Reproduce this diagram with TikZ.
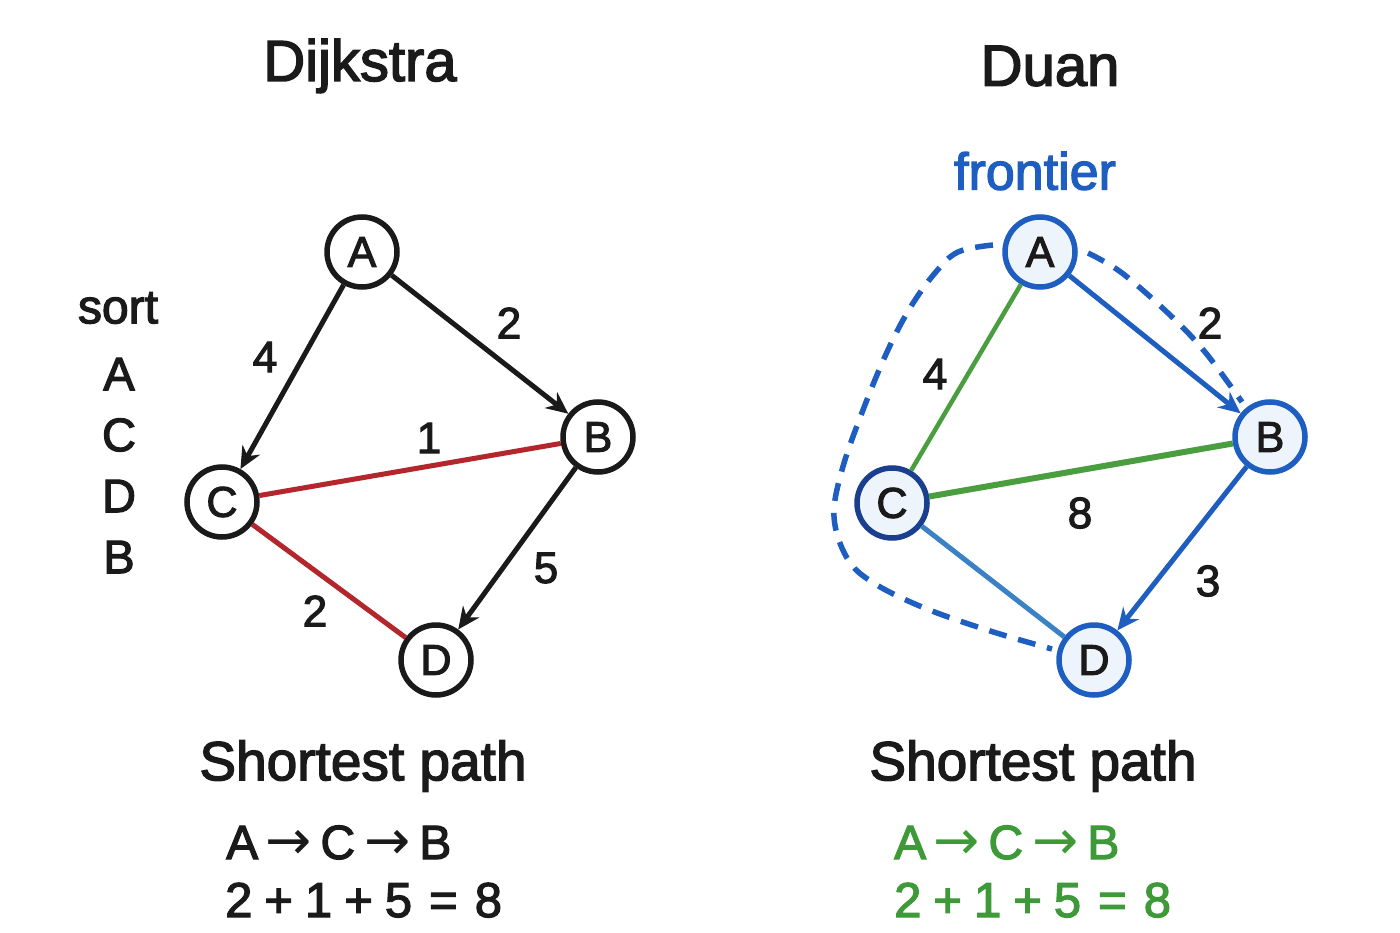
\documentclass[tikz,border=0pt]{standalone}
\usepackage{fontspec}
\usepackage{graphicx}
\setmainfont{Liberation Sans}[FakeBold=2.5]
\newfontfamily\arrowfont{DejaVu Sans}
\usetikzlibrary{arrows.meta}
\definecolor{ink}{HTML}{1A1A1A}
\definecolor{redpath}{HTML}{B3262B}
\definecolor{greenpath}{HTML}{4A9E3F}
\definecolor{bluepath}{HTML}{1E5EC0}
\definecolor{lightblue}{HTML}{3B82C4}
\definecolor{darkblue}{HTML}{1A3F8F}
\definecolor{nodefill}{HTML}{EEF4FB}
\definecolor{greentext}{HTML}{3E9A38}
\newcommand{\fsz}[1]{\fontsize{#1}{#1}\selectfont}
\newcommand{\rar}{\scalebox{1.15}{\arrowfont\char"2192}}
\tikzset{
  vert/.style={circle, draw=ink, line width=5.5pt, minimum size=70pt, inner sep=0pt, text=ink, font=\fsz{43}},
  bvert/.style={vert, draw=bluepath, fill=nodefill},
  title/.style={text=ink, font=\fsz{58}},
  elabel/.style={text=ink, font=\fsz{44}},
  arr/.style={line width=5pt, -{Stealth[length=22pt,width=20pt]}},
  plain/.style={line width=5pt},
  frontierline/.style={bluepath, line width=5.5pt, dash pattern=on 18pt off 12pt},
  sumtext/.style={anchor=west, inner sep=0pt},
}
\begin{document}
\begin{tikzpicture}[x=1pt,y=-1pt]
\useasboundingbox[fill=white] (0,0) rectangle (1400,933);

% titles
\node[title] (t1) at (360,66) {Dijkstra};
\node[title] (t2) at (1050,66) {Duan};

% sort list
\node[text=ink, font=\fsz{48}] (sort) at (118,308) {sort};
\node[text=ink, font=\fsz{47}] (s1) at (119,374) {A};
\node[text=ink, font=\fsz{47}] (s2) at (119,435) {C};
\node[text=ink, font=\fsz{47}] (s3) at (119,496) {D};
\node[text=ink, font=\fsz{47}] (s4) at (119,557) {B};

% Dijkstra graph
\node[vert] (A) at (362,252) {A};
\node[vert] (B) at (598,437) {B};
\node[vert] (C) at (222,502) {C};
\node[vert] (D) at (436,660) {D};
\draw[arr, ink] (A) -- (C);
\draw[arr, ink] (A) -- (B);
\draw[arr, ink] (B) -- (D);
\draw[plain, redpath] (C) -- (B);
\draw[plain, redpath] (C) -- (D);
\node[elabel] (l1) at (265,357) {4};
\node[elabel] (l2) at (509,323) {2};
\node[elabel] (l3) at (429,438) {1};
\node[elabel] (l4) at (546,568) {5};
\node[elabel] (l5) at (315,611) {2};

% Duan graph
\node[text=bluepath, font=\fsz{52}] (fr) at (1035,171) {frontier};
\node[bvert] (A2) at (1040,252) {A};
\node[bvert] (B2) at (1270,437) {B};
\node[bvert, draw=darkblue] (C2) at (892,503) {C};
\node[bvert] (D2) at (1094,660) {D};
\draw[plain, greenpath, line width=4.5pt] (A2) -- (C2);
\draw[plain, greenpath, line width=6pt] (C2) -- (B2);
\draw[plain, lightblue] (C2) -- (D2);
\draw[arr, bluepath] (A2) -- (B2);
\draw[arr, bluepath] (B2) -- (D2);
\draw[frontierline] plot[smooth, tension=0.6] coordinates {(993,245) (958,252) (935,273) (910,308) (887,352) (863,410) (842,470) (834,517) (847,558) (872,582) (922,607) (987,630) (1052,649)};
\draw[frontierline] plot[smooth, tension=0.6] coordinates {(1088,253) (1122,273) (1170,315) (1205,352) (1242,402)};
\node[elabel] (m1) at (935,374) {4};
\node[elabel] (m2) at (1210,323) {2};
\node[elabel] (m3) at (1080,513) {8};
\node[elabel] (m4) at (1208,581) {3};

% Shortest path texts
\node[title, font=\fsz{55}] (sp1) at (363,766) {Shortest path};
\node[title, font=\fsz{55}] (sp2) at (1033,766) {Shortest path};
\node[sumtext, text=ink, font=\fsz{48}, anchor=base west] (p1) at (226,859) {A\hspace{7pt}\rar\hspace{9pt}C\hspace{9pt}\rar\hspace{9pt}B};
\node[sumtext, text=ink, font=\fsz{49}, anchor=base west] (q1) at (225,917) {2\hspace{12pt}+\hspace{12pt}1\hspace{12pt}+\hspace{12pt}5\hspace{17pt}=\hspace{17pt}8};
\node[sumtext, text=greentext, font=\fsz{48}, anchor=base west] (p2) at (894,859) {A\hspace{7pt}\rar\hspace{9pt}C\hspace{9pt}\rar\hspace{9pt}B};
\node[sumtext, text=greentext, font=\fsz{49}, anchor=base west] (q2) at (894,917) {2\hspace{12pt}+\hspace{12pt}1\hspace{12pt}+\hspace{12pt}5\hspace{17pt}=\hspace{17pt}8};
\end{tikzpicture}
\end{document}
